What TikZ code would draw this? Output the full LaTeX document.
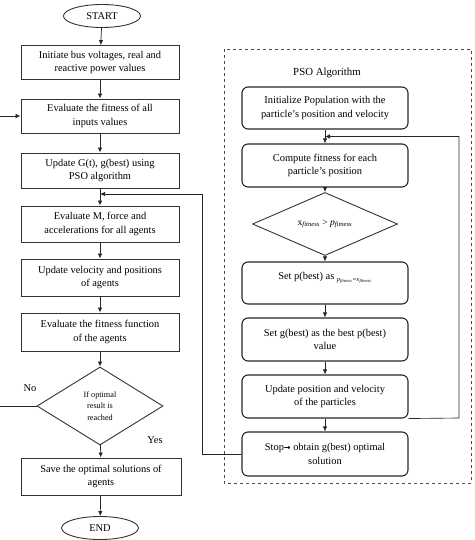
\documentclass[tikz,border=0pt]{standalone}
\usepackage{fontspec}
\setmainfont{Liberation Serif}
\newfontfamily\djv{DejaVu Sans}
\usetikzlibrary{shapes.geometric,arrows.meta,calc}
\begin{document}
\begin{tikzpicture}[x=1pt,y=-1pt,
  txt/.style={font=\fontsize{10.4}{13.5}\selectfont},
  box/.style={draw=black!80, line width=0.9pt, minimum width=158pt, align=center, inner sep=2pt, txt},
  rbox/.style={draw=black!85, line width=1.1pt, rounded corners=6pt, minimum width=166pt, align=center, inner sep=2pt, txt},
  term/.style={ellipse, draw=black!80, line width=0.9pt, minimum width=77pt, minimum height=23pt, inner sep=0pt, txt},
  dec/.style={diamond, draw=black!80, line width=0.9pt, inner sep=0pt, align=center},
  arr/.style={-{Latex[length=5pt,width=4.5pt]}, line width=0.75pt, draw=black!85},
  ln/.style={line width=0.75pt, draw=black!85},
  lbl/.style={font=\fontsize{10.4}{12}\selectfont}
]
\useasboundingbox (0,0) rectangle (474,540);

% dashed PSO frame
\draw[dashed, line width=0.6pt, black!70] (224,49) rectangle (471,483);
\node[font=\fontsize{10.8}{13}\selectfont] (psot) at (327,73) {PSO Algorithm};

% main column
\node[term] (start) at (102,16) {START};
\node[box, minimum height=34pt] (b1) at (100,62.5) {Initiate bus voltages, real and\\reactive power values};
\node[box, minimum height=34pt] (b2) at (100,116) {Evaluate the fitness of all\\inputs values};
\node[box, minimum height=35pt] (b3) at (100,170.5) {Update G(t), g(best) using\\PSO algorithm};
\node[box, minimum height=36pt] (b4) at (100,224) {Evaluate M, force and\\accelerations for all agents};
\node[box, minimum height=37pt] (b5) at (100,277.5) {Update velocity and positions\\of agents};
\node[box, minimum height=38pt] (b6) at (100,332) {Evaluate the fitness function\\of the agents};
\node[dec, minimum width=126pt, minimum height=78pt, font=\fontsize{8.2}{11.5}\selectfont] (dia) at (100,406) {If optimal\\result is\\reached};
\node[box, minimum width=160pt, minimum height=37pt] (b7) at (101,476.5) {Save the optimal solutions of\\agents};
\node[term] (end) at (100,528) {END};

\node[lbl] (no) at (30,388) {No};
\node[lbl] (yes) at (155,440) {Yes};

\coordinate (lin) at (0,116);
\coordinate (lout) at (0,406);

\draw[arr] (start) -- (b1);
\draw[arr] (b1) -- (b2);
\draw[arr] (b2) -- (b3);
\draw[arr] (b3) -- (b4);
\draw[arr] (b4) -- (b5);
\draw[arr] (b5) -- (b6);
\draw[arr] (b6) -- (dia);
\draw[arr] (dia) -- (b7);
\draw[arr] (b7) -- (end);
\draw[arr] (lin) -- (b2.west);
\draw[ln] (dia.west) -- (lout);

% PSO column
\node[rbox, minimum height=42pt] (init) at (325,108) {Initialize Population with the\\particle’s position and velocity};
\node[rbox, minimum height=43pt] (comp) at (325,165.5) {Compute fitness for each\\particle’s position};
\node[dec, minimum width=145pt, minimum height=48pt, font=\fontsize{9.5}{11}\selectfont] (pdia) at (325,224) {x\textsubscript{\itshape fitness} \textgreater{} \textit{p}\textsubscript{\itshape fitness}};
\node[rbox, minimum height=42pt] (setp) at (325,283) {Set p(best) as \raisebox{-2pt}{\fontsize{6.5}{7}\selectfont\itshape p\textsubscript{fitness}=x\textsubscript{fitness}}\\\mbox{}};
\node[rbox, minimum height=43pt] (setg) at (325,339.5) {Set g(best) as the best p(best)\\value};
\node[rbox, minimum height=43pt] (upd) at (325,396.5) {Update position and velocity\\of the particles};
\node[rbox, minimum height=44pt] (stop) at (325,454) {Stop{\djv\bfseries\fontsize{8}{8}\selectfont →} obtain g(best) optimal\\solution};

\draw[arr] (init) -- (comp);
\draw[arr] (comp) -- (pdia);
\draw[arr] (pdia) -- (setp);
\draw[arr] (setp) -- (setg);
\draw[arr] (setg) -- (upd);
\draw[arr] (upd) -- (stop);

% PSO inner loop
\coordinate (pj) at ($(init.south)!0.5!(comp.north)$);
\draw[arr, line width=0.65pt] (upd.south east) -- (459,418) -- (459,136.5) -- (pj);

% loop back to main column
\coordinate (mj) at ($(b3.south)!0.5!(b4.north)$);
\draw[arr] (stop.west) -- (202,454) -- (202,194) -- (100,194);
\end{tikzpicture}
\end{document}
